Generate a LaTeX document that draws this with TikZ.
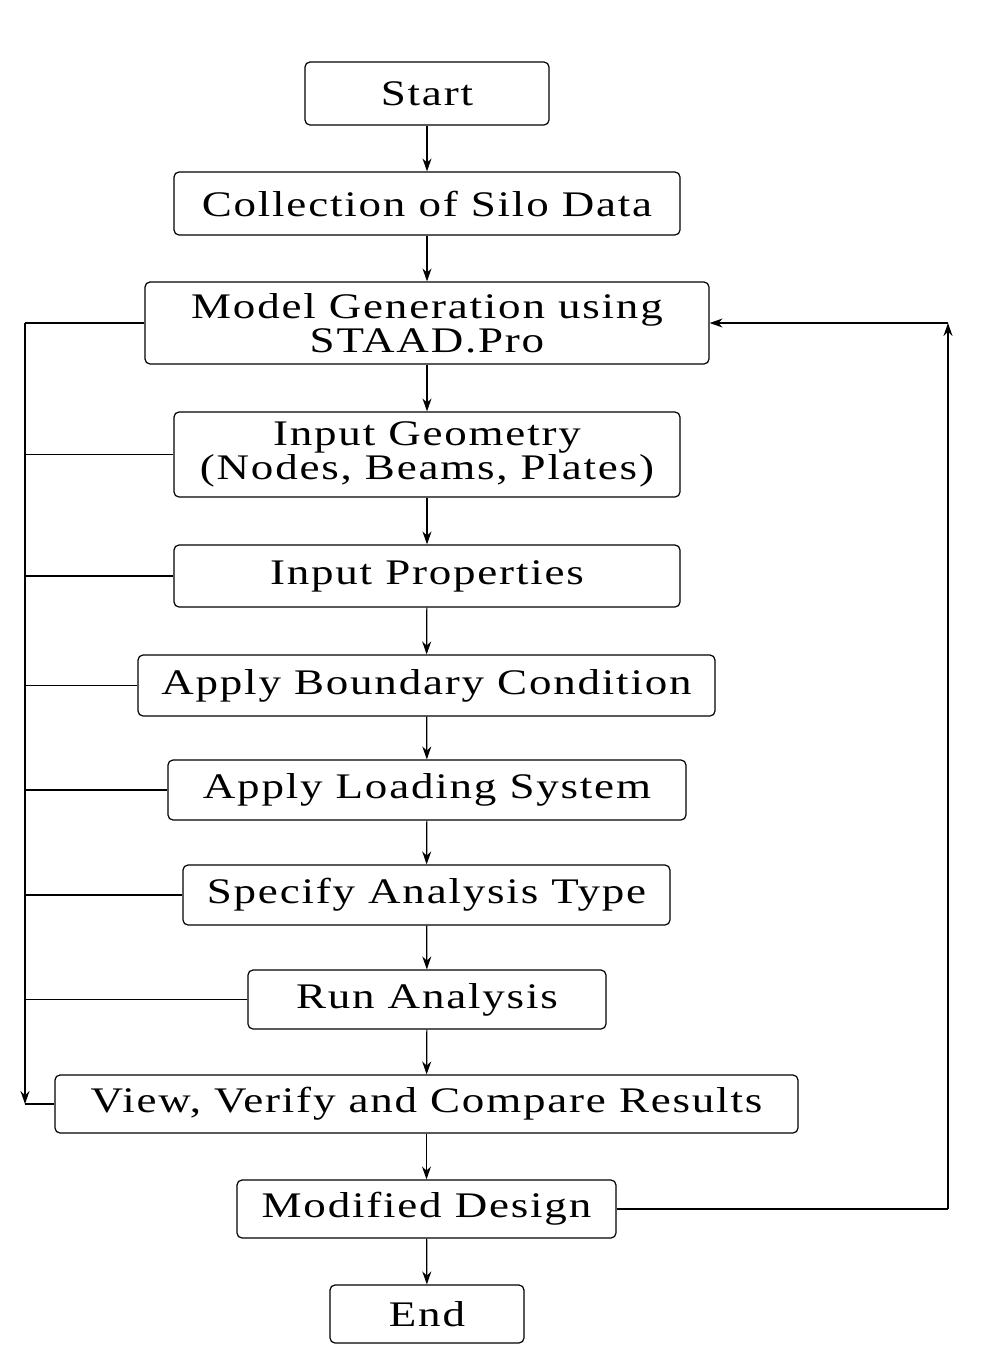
\documentclass[tikz,border=0pt]{standalone}
\usepackage{fontspec}
\setmainfont{Liberation Serif}[LetterSpace=5,FakeStretch=1.25]
\usetikzlibrary{arrows.meta}
\begin{document}
\begin{tikzpicture}[x=1pt,y=-1pt,
 box/.style={draw,rounded corners=5pt,line width=1.2pt,font=\fontsize{36}{36}\selectfont,align=center,inner sep=0pt},
 ar/.style={-{Stealth[length=13pt,width=9pt]},line width=1.2pt},
 ln/.style={line width=1.2pt}]
\useasboundingbox (0,0) rectangle (990,1361);
\newcommand\bx[6]{\node[box,minimum width=#4-#2,minimum height=#5-#3] (#1) at ({(#2+#4)/2},{(#3+#5)/2}) {#6};}
\bx{s}{305}{62}{549}{125}{Start}
\bx{c}{174}{172}{680}{235}{Collection of Silo Data}
\bx{m}{145}{282}{709}{364}{Model Generation using\\[-2pt]STAAD.Pro}
\bx{g}{174}{412}{680}{497}{Input Geometry\\[-2pt](Nodes, Beams, Plates)}
\bx{p}{174}{545}{680}{607}{Input Properties}
\bx{b}{138}{655}{715}{716}{Apply Boundary Condition}
\bx{l}{168}{760}{686}{820}{Apply Loading System}
\bx{t}{183}{865}{670}{925}{Specify Analysis Type}
\bx{r}{248}{970}{606}{1029}{Run Analysis}
\bx{v}{55}{1075}{798}{1133}{View, Verify and Compare Results}
\bx{d}{237}{1180}{616}{1238}{Modified Design}
\bx{e}{330}{1285}{524}{1343}{End}
\foreach \a/\b in {s/c,c/m,m/g,g/p,p/b,b/l,l/t,t/r,r/v,v/d,d/e}
  \draw[ar] (\a) -- (\b);
\coordinate (X) at (25,0);
\coordinate (Y) at (948,0);
\draw[ln] (m.west) -- (m.west -| X) coordinate (L0);
\draw[ar] (L0) -- (v.west -| X) coordinate (L1);
\draw[ln] (L1) -- (v.west);
\foreach \n in {g,p,b,l,t,r} \draw[ln] (\n.west) -- (\n.west -| X);
\draw[ln] (d.east) -- (d.east -| Y) coordinate (R0);
\draw[ar] (R0) -- (m.east -| Y) coordinate (R1);
\draw[ar] (R1) -- (m.east);
\end{tikzpicture}
\end{document}
